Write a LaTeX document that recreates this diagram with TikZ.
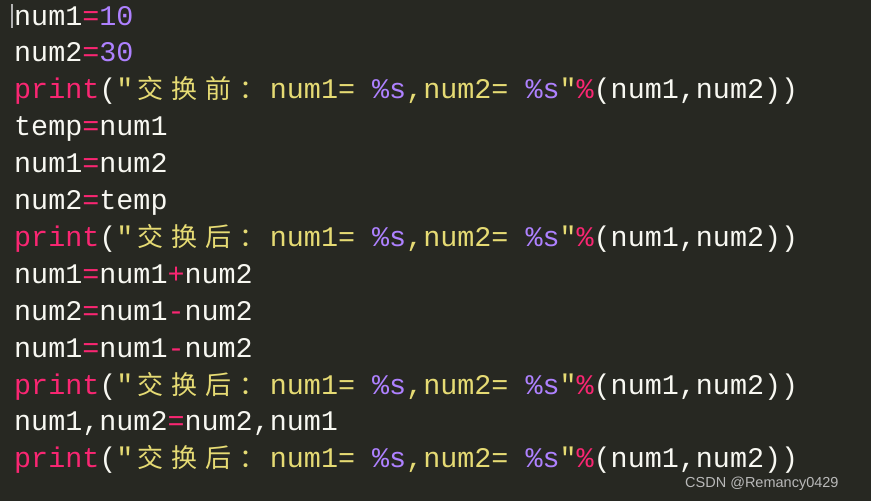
\documentclass[tikz,border=0pt]{standalone}
\usepackage{fontspec}
\setmainfont{Liberation Sans}
\newfontfamily\code{Liberation Mono}
\newfontfamily\cjk{Noto Sans CJK SC}
\definecolor{bg}{HTML}{272822}
\definecolor{fg}{HTML}{F8F8F2}
\definecolor{pk}{HTML}{F92672}
\definecolor{pu}{HTML}{AE81FF}
\definecolor{ye}{HTML}{E6DB74}
\newcommand\cW[1]{\textcolor{fg}{#1}}
\newcommand\cP[1]{\textcolor{pk}{#1}}
\newcommand\cU[1]{\textcolor{pu}{#1}}
\newcommand\cY[1]{\textcolor{ye}{#1}}
\newcommand\cj[1]{\makebox[34.1pt][c]{\cjk\fontsize{26}{28}\selectfont #1}}
\newcommand\prl[1]{\cP{print}\cW{(}\cY{"\cj{交}\cj{换}\cj{#1}\cj{：}num1= }\cU{\%s}\cY{,num2= }\cU{\%s}\cY{"}\cP{\%}\cW{(num1,num2))}}
\begin{document}
\begin{tikzpicture}[x=1pt,y=1pt,every node/.style={anchor=base west,inner sep=0pt,font=\code\fontsize{28.4}{30}\selectfont}]
\fill[bg] (0,0) rectangle (871,-501);
\useasboundingbox (0,0) rectangle (871,-501);
\fill[gray!60] (11,-4) rectangle (12.5,-28);
\node (l1) at (14,-25) {\cW{num1}\cP{=}\cU{10}};
\node (l2) at (14,-61.9) {\cW{num2}\cP{=}\cU{30}};
\node (l3) at (14,-98.8) {\prl{前}};
\node (l4) at (14,-135.7) {\cW{temp}\cP{=}\cW{num1}};
\node (l5) at (14,-172.6) {\cW{num1}\cP{=}\cW{num2}};
\node (l6) at (14,-209.5) {\cW{num2}\cP{=}\cW{temp}};
\node (l7) at (14,-246.4) {\prl{后}};
\node (l8) at (14,-283.3) {\cW{num1}\cP{=}\cW{num1}\cP{+}\cW{num2}};
\node (l9) at (14,-320.2) {\cW{num2}\cP{=}\cW{num1}\cP{-}\cW{num2}};
\node (l10) at (14,-357.1) {\cW{num1}\cP{=}\cW{num1}\cP{-}\cW{num2}};
\node (l11) at (14,-394) {\prl{后}};
\node (l12) at (14,-430.9) {\cW{num1,num2}\cP{=}\cW{num2,num1}};
\node (l13) at (14,-467.8) {\prl{后}};
\node[font=\fontsize{14.5}{16}\selectfont,text=gray!55] (wm) at (685,-487) {CSDN @Remancy0429};
\end{tikzpicture}
\end{document}
